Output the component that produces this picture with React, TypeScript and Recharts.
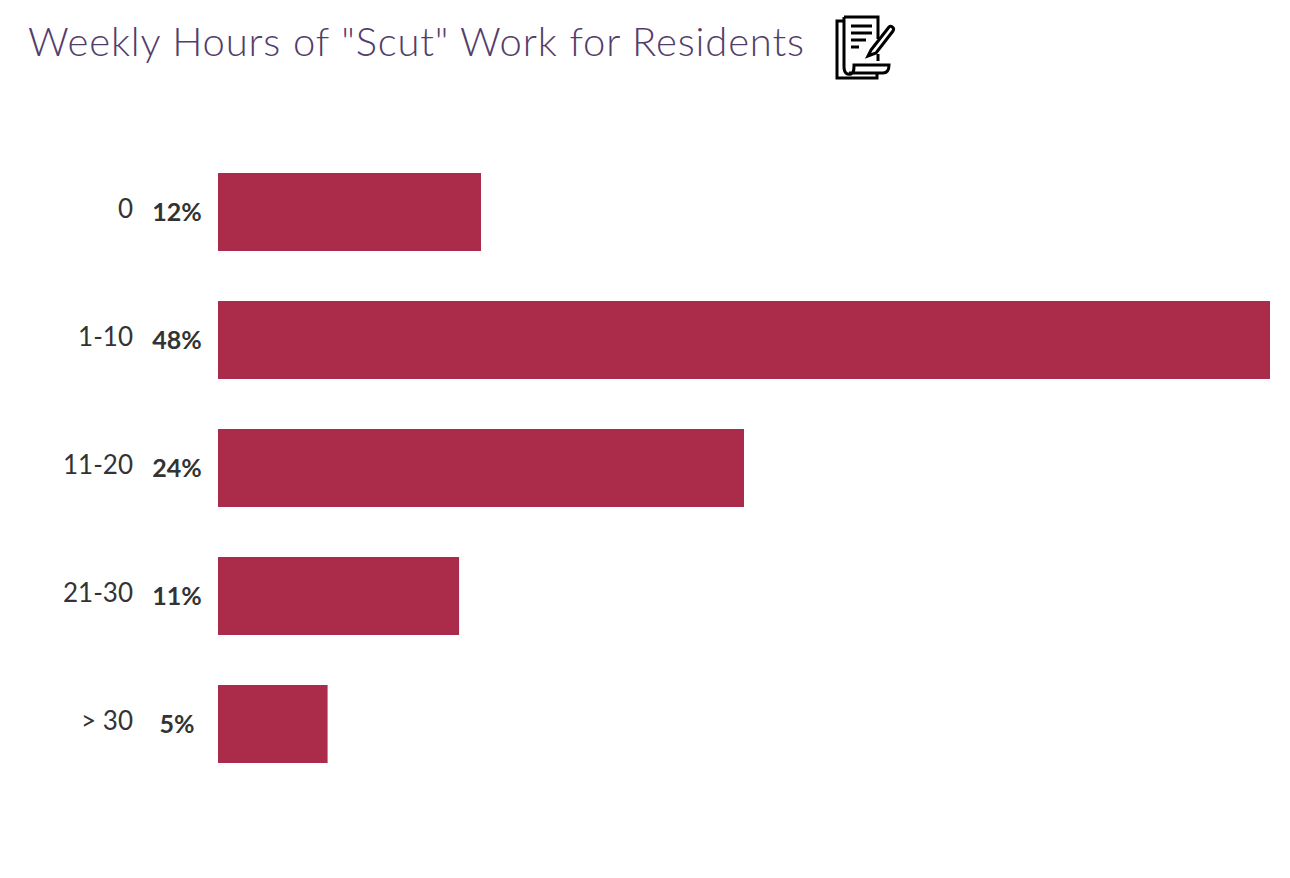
import React from "react";
import { BarChart, Bar, XAxis, YAxis, LabelList } from "recharts";

const categories = ["0", "1-10", "11-20", "21-30", "> 30"];
const shares = [12, 48, 24, 11, 5];
const titleText = 'Weekly Hours of "Scut" Work for Residents';
const rows = categories.map((category, i) => ({ category, share: shares[i] }));

const font = "Lato, 'Open Sans', sans-serif";

const CategoryTick = (props: any) => (
  <text x={133} y={props.y + 6} textAnchor="end" fontFamily={font} fontSize={26} fill="#333333">
    {props.payload.value}
  </text>
);

const ShareLabel = (props: any) => (
  <text
    x={props.x - 41}
    y={props.y + props.height / 2 + 9}
    textAnchor="middle"
    fontFamily={font}
    fontWeight={700}
    fontSize={25}
    fill="#333333"
  >
    {props.value}%
  </text>
);

const NoteIcon = () => (
  <svg
    width={62}
    height={66}
    viewBox="0 0 62 66"
    style={{ position: "absolute", left: 835, top: 15 }}
    fill="none"
    stroke="#000"
    strokeWidth={3}
  >
    <path d="M9 6 H2 V63 H42 V57" />
    <path d="M9 2 H43 V24 M43 39 V46 M9 2 V52 C9 58 12 60 16 59 C19 58 19 54 19 50 H54 C54 55 52 58 48 58 H14" />
    <path d="M16 11 H37 M16 18 H37 M16 25 H31 M16 32 H24" />
    <path d="M36 35 L54 12 C56 10 60 13 58 16 L41 38 L33 41 Z" />
  </svg>
);

export default function App() {
  return (
    <div style={{ position: "absolute", left: 0, top: 0, width: 1290, height: 878, background: "#fff" }}>
      <div
        style={{
          position: "absolute",
          left: 28,
          top: 16,
          fontFamily: font,
          fontWeight: 300,
          fontSize: 40,
          lineHeight: "50px",
          letterSpacing: 0.85,
          color: "#533d6b",
          whiteSpace: "nowrap",
        }}
      >
        {titleText}
      </div>
      <NoteIcon />
      <BarChart
        width={1290}
        height={878}
        data={rows}
        layout="vertical"
        margin={{ top: 148, right: 20, bottom: 90, left: 0 }}
        barCategoryGap={25}
      >
        <XAxis type="number" hide domain={[0, 48]} />
        <YAxis
          type="category"
          dataKey="category"
          width={218}
          axisLine={false}
          tickLine={false}
          tick={<CategoryTick />}
        />
        <Bar dataKey="share" fill="#ab2b4a" isAnimationActive={false}>
          <LabelList dataKey="share" content={<ShareLabel />} />
        </Bar>
      </BarChart>
    </div>
  );
}
